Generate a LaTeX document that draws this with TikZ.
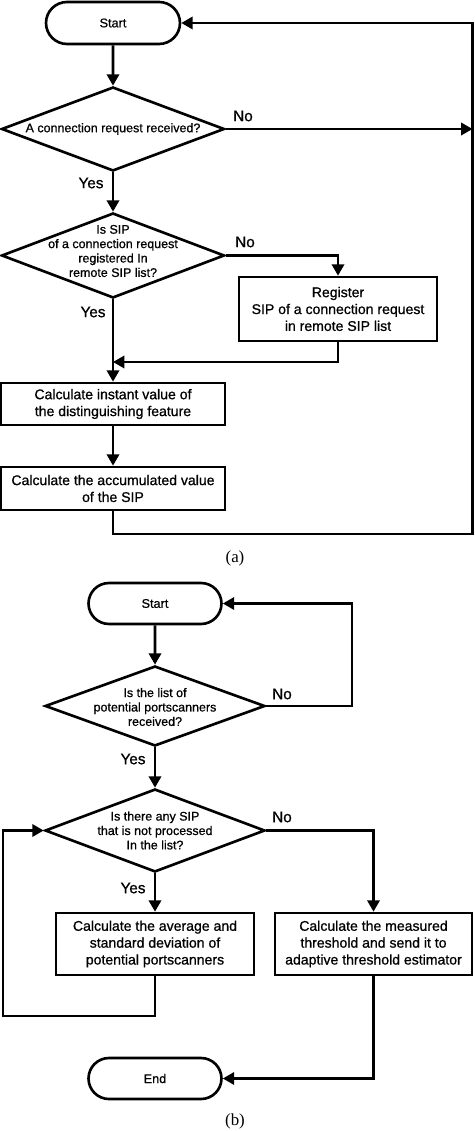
\documentclass[tikz,border=0pt]{standalone}
\usepackage{fontspec}
\setmainfont{Liberation Sans}[FakeBold=0.8]
\newfontfamily\capfont{Liberation Serif}
\usetikzlibrary{shapes.geometric,shapes.misc,arrows.meta}

\tikzset{
  term/.style={draw, rounded rectangle, line width=1.5pt, minimum width=2.68cm, minimum height=0.84cm, inner sep=0pt, font=\fontsize{7.2}{8}\selectfont},
  decision/.style={draw, diamond, line width=1.5pt, inner sep=0pt},
  qtext/.style={align=center, inner sep=0pt, font=\fontsize{7.1}{8.2}\selectfont},
  proc/.style={draw, rectangle, line width=1.5pt, align=center, inner sep=0pt, font=\fontsize{8}{9.6}\selectfont},
  lbl/.style={inner sep=0pt, font=\fontsize{8.7}{10}\selectfont},
  figcap/.style={inner sep=0pt, font=\capfont\fontsize{9.6}{11}\selectfont},
  flow/.style={line width=1.5pt, -{Triangle[length=6.5pt,width=7pt]}}
}

\begin{document}
\begin{tikzpicture}[x=0.02cm, y=-0.02cm]
    \useasboundingbox (0,0) rectangle (474,1131) ;
    % (a)
    \node[term] (s1) at (113,23) {Start} ;
    \node[decision, minimum width=4.46cm, minimum height=1.68cm] (q1) at (113,129) {} ;
    \node[qtext] (q1t) at (q1) {A connection request received?} ;
    \node[decision, minimum width=4.46cm, minimum height=1.70cm] (q2) at (113,255.5) {} ;
    \node[qtext] (q2t) at (113,251) {Is SIP\\of a connection request\\registered In\\remote SIP list?} ;
    \node[proc, minimum width=3.96cm, minimum height=1.28cm] (reg) at (338,309) {Register\\SIP of a connection request\\in remote SIP list} ;
    \node[proc, minimum width=4.48cm, minimum height=0.84cm] (b1) at (113,404) {Calculate instant value of\\the distinguishing feature} ;
    \node[proc, minimum width=4.48cm, minimum height=0.86cm] (b2) at (113,488.5) {Calculate the accumulated value\\of the SIP} ;
    \node[lbl] (no1) at (243,116) {No} ;
    \node[lbl] (yes1) at (91,183) {Yes} ;
    \node[lbl] (no2) at (245,242) {No} ;
    \node[lbl] (yes2) at (93,312) {Yes} ;
    \coordinate (ra) at (472.5,534) ;
    \coordinate (j1) at (113,362) ;
    \draw[flow] (s1) -- (q1) ;
    \draw[flow] (q1.east) -- (q1.east -| ra) ;
    \draw[flow] (q1) -- (q2) ;
    \draw[flow] (q2.east) -| (reg.north) ;
    \draw[flow] (reg.south) |- (j1) ;
    \draw[flow] (q2) -- (b1) ;
    \draw[flow] (b1) -- (b2) ;
    \draw[flow] (b2.south) |- (ra) |- (s1.east) ;
    \node[figcap] (capa) at (235,558) {(a)} ;
    % (b)
    \node[term, minimum width=2.66cm, minimum height=0.82cm] (s2) at (155,603.5) {Start} ;
    \node[decision, minimum width=4.40cm, minimum height=1.60cm] (q3) at (155,706) {} ;
    \node[qtext] (q3t) at (155,707) {Is the list of\\potential portscanners\\received?} ;
    \node[decision, minimum width=4.40cm, minimum height=1.66cm] (q4) at (155,830.5) {} ;
    \node[qtext] (q4t) at (q4) {Is there any SIP\\that is not processed\\In the list?} ;
    \node[proc, minimum width=3.96cm, minimum height=1.24cm] (b3) at (155,944) {Calculate the average and\\standard deviation of\\potential portscanners} ;
    \node[proc, minimum width=3.94cm, minimum height=1.24cm] (b4) at (373.5,944) {Calculate the measured\\threshold and send it to\\adaptive threshold estimator} ;
    \node[term, minimum width=2.66cm, minimum height=0.82cm] (e) at (155,1078.5) {End} ;
    \node[lbl] (no3) at (282,694) {No} ;
    \node[lbl] (yes3) at (133,759) {Yes} ;
    \node[lbl] (no4) at (282,817) {No} ;
    \node[lbl] (yes4) at (133,888) {Yes} ;
    \coordinate (rb) at (352,706) ;
    \coordinate (lb) at (3,1016) ;
    \draw[flow] (s2) -- (q3) ;
    \draw[flow] (q3.east) -- (rb) |- (s2.east) ;
    \draw[flow] (q3) -- (q4) ;
    \draw[flow] (q4.east) -| (b4.north) ;
    \draw[flow] (q4) -- (b3) ;
    \draw[flow] (b3.south) |- (lb) |- (q4.west) ;
    \draw[flow] (b4.south) |- (e.east) ;
    \node[figcap] (capb) at (235,1121) {(b)} ;
\end{tikzpicture}
\end{document}
